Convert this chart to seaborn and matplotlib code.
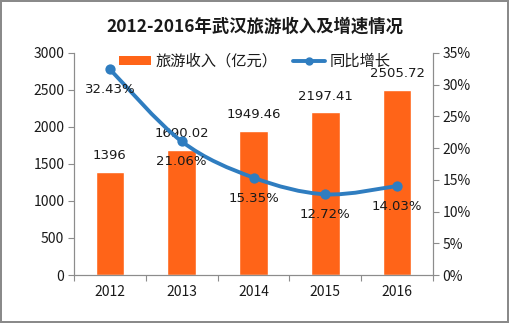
import numpy as np
import pandas as pd
import seaborn as sns
import matplotlib
matplotlib.use("Agg")
import matplotlib.pyplot as plt
from matplotlib.path import Path
from matplotlib.patches import PathPatch, Patch
from matplotlib.lines import Line2D
from matplotlib.ticker import FuncFormatter, MultipleLocator, FixedLocator

# Data
years = ["2012", "2013", "2014", "2015", "2016"]
income = [1396, 1690.02, 1949.46, 2197.41, 2505.72]      # 旅游收入（亿元）
growth = [32.43, 21.06, 15.35, 12.72, 14.03]             # 同比增长（%）
income_labels = ["1396", "1690.02", "1949.46", "2197.41", "2505.72"]
growth_labels = ["32.43%", "21.06%", "15.35%", "12.72%", "14.03%"]

sns.set_theme(style="white")
plt.rcParams["font.family"] = ["Noto Sans CJK SC", "DejaVu Sans"]

BAR = "#FF6418"
LINE = "#2F7DC0"
AXC = "#8C8C8C"
TXT = "#1a1a1a"

fig = plt.figure(figsize=(5.09, 3.23), dpi=100, facecolor="white",
                 edgecolor="#8A8A8A", linewidth=1.6)
ax = fig.add_axes([0.1454, 0.1486, 0.7053, 0.6874])
ax2 = ax.twinx()

df = pd.DataFrame({"year": years, "income": income, "growth": growth})

sns.barplot(data=df, x="year", y="income", color=BAR, width=0.4,
            saturation=1, ax=ax, zorder=2)
ax.set_ylim(0, 3000)
ax.set_xlim(-0.5, 4.5)
ax.yaxis.set_major_locator(MultipleLocator(500))
ax.set_xlabel("")
ax.set_ylabel("")

# smoothed growth curve (Catmull-Rom segments as cubic Bezier)
xs = np.arange(len(growth), dtype=float)
ys = np.array(growth, dtype=float)
pts = np.column_stack([xs, ys])
verts = [tuple(pts[0])]
codes = [Path.MOVETO]
n = len(pts)
for i in range(n - 1):
    p0 = pts[i - 1] if i > 0 else pts[i]
    p1 = pts[i]
    p2 = pts[i + 1]
    p3 = pts[i + 2] if i + 2 < n else pts[i + 1]
    c1 = p1 + (p2 - p0) / 6.0
    c2 = p2 - (p3 - p1) / 6.0
    verts += [tuple(c1), tuple(c2), tuple(p2)]
    codes += [Path.CURVE4, Path.CURVE4, Path.CURVE4]
ax2.add_patch(PathPatch(Path(verts, codes), facecolor="none", edgecolor=LINE,
                        linewidth=2.8, capstyle="round", zorder=3))
sns.scatterplot(x=xs, y=ys, color=LINE, s=55, edgecolor=LINE, linewidth=0,
                ax=ax2, zorder=4)
ax2.set_ylim(0, 35)
ax2.set_xlim(-0.5, 4.5)
ax2.yaxis.set_major_locator(MultipleLocator(5))
ax2.yaxis.set_major_formatter(FuncFormatter(lambda v, p: f"{v:.0f}%"))

# value labels
for i, (v, lab) in enumerate(zip(income, income_labels)):
    ax.annotate(lab, (i, v), xytext=(0, 7), textcoords="offset points",
                ha="center", va="bottom", fontsize=9.5, color=TXT,
                family=["DejaVu Sans"])
for i, (v, lab) in enumerate(zip(growth, growth_labels)):
    ax2.annotate(lab, (i, v), xytext=(0, -10), textcoords="offset points",
                 ha="center", va="top", fontsize=9.5, color=TXT,
                 family=["DejaVu Sans"], zorder=5)

# axes styling
for a in (ax, ax2):
    a.set_facecolor("none")
    a.grid(False)
    for s in a.spines.values():
        s.set_color(AXC)
        s.set_linewidth(0.8)
    a.spines["top"].set_visible(False)
ax.patch.set_visible(False)
ax.tick_params(axis="y", left=True, length=4, width=0.8, color=AXC,
               labelsize=10, labelcolor=TXT, pad=3)
ax2.tick_params(axis="y", right=True, length=4, width=0.8, color=AXC,
                labelsize=10, labelcolor=TXT, pad=3)
ax.tick_params(axis="x", bottom=True, length=0, labelsize=10,
               labelcolor=TXT, pad=7)
ax.xaxis.set_minor_locator(FixedLocator(np.arange(-0.5, 5.0, 1.0)))
ax.tick_params(axis="x", which="minor", bottom=True, length=4, width=0.8,
               color=AXC)
ax2.tick_params(axis="x", bottom=False)

# legend
handles = [Patch(facecolor=BAR, edgecolor="none"),
           Line2D([0], [0], color=LINE, lw=2.8, marker="o", markersize=5)]
fig.legend(handles, ["旅游收入（亿元）", "同比增长"], loc="center",
           bbox_to_anchor=(0.5, 0.81), ncol=2, frameon=False, fontsize=11,
           handlelength=2.1, handleheight=0.45, columnspacing=1.0,
           handletextpad=0.3, labelcolor=TXT)

fig.text(0.5, 0.918, "2012-2016年武汉旅游收入及增速情况", ha="center",
         va="center", fontsize=12.5, fontweight="bold", color=TXT)

fig.savefig("out.png", dpi=100, facecolor="white", edgecolor=fig.get_edgecolor())
